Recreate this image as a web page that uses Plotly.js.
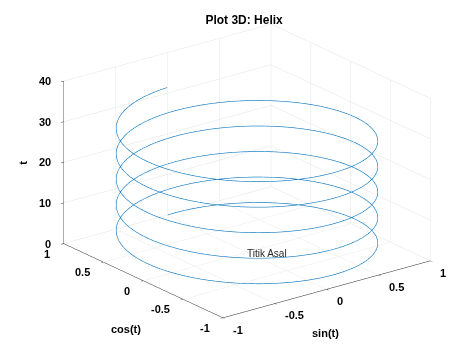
<!DOCTYPE html>
<html>
<head>
<meta charset="utf-8">
<script src="https://cdn.plot.ly/plotly-3.0.1.min.js"></script>
<style>html,body{margin:0;padding:0;background:#fff;}#chart{width:474px;height:355px;}#err{position:absolute;left:0;top:0;font:10px sans-serif;color:red}</style>
</head>
<body>
<div id="chart"></div>
<div id="err"></div>
<script>
window.onerror = function (m) { document.getElementById('err').textContent += ' ' + m; };
// Helix parameters: 5 full turns, t from 0 to 10*pi, step pi/50
const tStart = 0;
const tEnd = 10 * Math.PI;
const tStep = Math.PI / 50;
const tValues = [];
for (let i = 0; tStart + i * tStep <= tEnd + 1e-9; i++) tValues.push(tStart + i * tStep);
const xSin = tValues.map(Math.sin);   // sin(t)
const yCos = tValues.map(Math.cos);   // cos(t)

const xTicks = [-1, -0.5, 0, 0.5, 1];
const yTicks = [-1, -0.5, 0, 0.5, 1];
const zTicks = [0, 10, 20, 30, 40];
const xTickText = ['-1', '-0.5', '0', '0.5', '1'];
const yTickText = ['-1', '-0.5', '0', '0.5', '1'];
const zTickText = ['0', '10', '20', '30', '40'];
const xTitle = 'sin(t)';
const yTitle = 'cos(t)';
const zTitle = 't';
const chartTitle = 'Plot 3D: Helix';
const originLabel = 'Titik Asal';

const d = 2.0;
const dir = [-0.569, -0.741, 0.358];
const S = 1.53;
const FONT = 'Liberation Sans, Arial, sans-serif';
const boldFont = {family: FONT, size: 11, color: '#000', weight: 'bold'};

const axisCommon = {
  showbackground: false,
  gridcolor: '#e3e3e3',
  gridwidth: 1,
  showline: true,
  linecolor: '#262626',
  linewidth: 1,
  ticks: 'outside',
  tickcolor: '#262626',
  ticklen: 3,
  zeroline: false,
  showspikes: false,
  showticklabels: false,
  tickmode: 'array',
  title: {text: ''}
};

const trace = {
  type: 'scatter3d',
  mode: 'lines',
  x: xSin, y: yCos, z: tValues,
  line: {color: '#0072BD', width: 1.2},
  hoverinfo: 'skip',
  showlegend: false
};

const ann = [];
// horizontal tick labels anchored to the 3D tick positions
xTicks.forEach((v, i) => ann.push({x: v, y: -1, z: 0, text: xTickText[i], showarrow: false,
  xanchor: 'left', yanchor: 'middle', xshift: 8, yshift: -12, font: boldFont}));
yTicks.forEach((v, i) => ann.push({x: -1, y: v, z: 0, text: yTickText[i], showarrow: false,
  xanchor: 'right', yanchor: 'middle', xshift: -11, yshift: -10, font: boldFont}));
zTicks.forEach((v, i) => ann.push({x: -1, y: 1, z: v, text: zTickText[i], showarrow: false,
  xanchor: 'right', yanchor: 'middle', xshift: -10, yshift: 0, font: boldFont}));
// axis titles
ann.push({x: 0, y: -1, z: 0, text: xTitle, showarrow: false, xanchor: 'center', yanchor: 'middle',
  xshift: -1, yshift: -44, font: boldFont});
ann.push({x: -1, y: 0, z: 0, text: yTitle, showarrow: false, xanchor: 'center', yanchor: 'middle',
  xshift: -17, yshift: -48, font: boldFont});
ann.push({x: -1, y: 1, z: 20, text: zTitle, showarrow: false, xanchor: 'center', yanchor: 'middle',
  xshift: -40, yshift: 0, textangle: -90, font: boldFont});
// text label at the origin
ann.push({x: 0, y: 0, z: 0, text: originLabel, showarrow: false, xanchor: 'left', yanchor: 'middle',
  xshift: -2, yshift: -1, font: {family: FONT, size: 10, color: '#262626'}});

const layout = {
  width: 474, height: 355,
  margin: {l: 0, r: 0, t: 0, b: 0},
  paper_bgcolor: '#fff',
  title: {text: chartTitle, x: 0.515, xanchor: 'center', y: 0.944, yanchor: 'middle',
          font: {family: FONT, size: 12, color: '#000', weight: 'bold'}},
  scene: {
    domain: {x: [0.042, 1], y: [0.037, 1]},
    aspectmode: 'manual',
    aspectratio: {x: S, y: S, z: 0.665 * S},
    camera: {
      eye: {x: dir[0] * d, y: dir[1] * d, z: dir[2] * d},
      up: {x: 0, y: 0, z: 1},
      center: {x: 0, y: 0, z: 0},
      projection: {type: 'orthographic'}
    },
    xaxis: Object.assign({}, axisCommon, {range: [-1, 1], tickvals: xTicks}),
    yaxis: Object.assign({}, axisCommon, {range: [-1, 1], tickvals: yTicks}),
    zaxis: Object.assign({}, axisCommon, {range: [0, 40], tickvals: zTicks}),
    annotations: ann
  }
};

Plotly.newPlot('chart', [trace], layout, {displayModeBar: false})
  .catch(e => { document.getElementById('err').textContent += ' ' + e; });
</script>
</body>
</html>
